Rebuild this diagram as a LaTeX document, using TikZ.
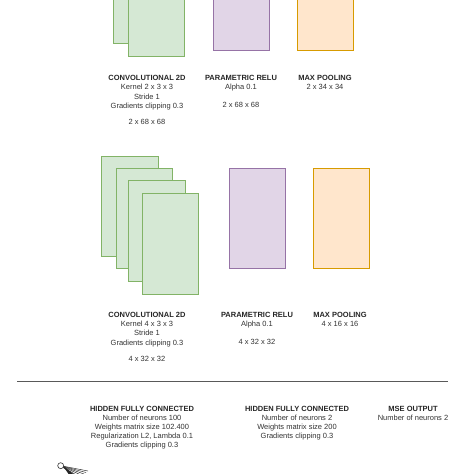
\documentclass[tikz,border=0pt]{standalone}
\usepackage{fontspec}
\setmainfont{Liberation Sans}
\definecolor{gfill}{HTML}{D5E8D4}
\definecolor{gdraw}{HTML}{82B366}
\definecolor{pfill}{HTML}{E1D5E7}
\definecolor{pdraw}{HTML}{9673A6}
\definecolor{ofill}{HTML}{FFE6CC}
\definecolor{odraw}{HTML}{D79B00}
\definecolor{txt}{HTML}{333333}
\tikzset{
  greenbox/.style={draw=gdraw, fill=gfill, line width=0.6pt},
  purplebox/.style={draw=pdraw, fill=pfill, line width=0.6pt},
  orangebox/.style={draw=odraw, fill=ofill, line width=0.6pt},
  lbl/.style={anchor=north, inner sep=0pt, align=center, text=txt,
    font=\fontsize{7.5}{9.2}\selectfont},
}
\newcommand{\ttl}[1]{\textbf{\color{black!85}#1}}
\begin{document}
\begin{tikzpicture}[x=1pt,y=-1pt]
\useasboundingbox (0,0) rectangle (474,474);
\clip (0,0) rectangle (474,474);
\fill[white] (0,0) rectangle (474,474);
% top row
\draw[greenbox] (113,-58) rectangle (169,43);
\draw[greenbox] (128,-45) rectangle (184,56);
\draw[purplebox] (213,-51) rectangle (269,50);
\draw[orangebox] (297,-51) rectangle (353,50);
\node[lbl] (c1) at (147,75.3) {\ttl{CONVOLUTIONAL 2D}\\Kernel 2 x 3 x 3\\Stride 1\\Gradients clipping 0.3\\[7pt]2 x 68 x 68};
\node[lbl] (r1) at (241,75.3) {\ttl{PARAMETRIC RELU}\\Alpha 0.1\\[8pt]2 x 68 x 68};
\node[lbl] (m1) at (325,75.3) {\ttl{MAX POOLING}\\2 x 34 x 34};
% middle row
\draw[greenbox] (101.7,156) rectangle (158.3,256.7);
\draw[greenbox] (116,168.7) rectangle (172.7,268.3);
\draw[greenbox] (128.7,180.7) rectangle (185.3,281.3);
\draw[greenbox] (142,193.3) rectangle (198.7,294);
\draw[purplebox] (229,168.3) rectangle (285.7,268.7);
\draw[orangebox] (313,168.3) rectangle (369.7,268.7);
\node[lbl] (c2) at (147,312) {\ttl{CONVOLUTIONAL 2D}\\Kernel 4 x 3 x 3\\Stride 1\\Gradients clipping 0.3\\[7pt]4 x 32 x 32};
\node[lbl] (r2) at (257,312.3) {\ttl{PARAMETRIC RELU}\\Alpha 0.1\\[8pt]4 x 32 x 32};
\node[lbl] (m2) at (340,312.3) {\ttl{MAX POOLING}\\4 x 16 x 16};
% separator
\coordinate (sl) at (17,381);
\coordinate (sr) at (448,381);
\draw[black!65, line width=0.8pt] (sl) -- (sr);
% bottom row
\node[lbl] (h1) at (142,405.6) {\ttl{HIDDEN FULLY CONNECTED}\\Number of neurons 100\\Weights matrix size 102.400\\Regularization L2, Lambda 0.1\\Gradients clipping 0.3};
\node[lbl] (h2) at (297,405.6) {\ttl{HIDDEN FULLY CONNECTED}\\Number of neurons 2\\Weights matrix size 200\\Gradients clipping 0.3};
\node[lbl] (mse) at (413,405.6) {\ttl{MSE OUTPUT}\\Number of neurons 2};
% partial icon at bottom left
\coordinate (ic) at (60.7,465.7);
\foreach \ex/\ey in {88/471, 86/472.5, 84/474, 81/475, 78/476, 75/476} {
  \draw[black!80, line width=0.5pt] (ic) -- (\ex,\ey);
}
\fill[black!85] (63,466) -- (76,476) -- (70,476) -- cycle;
\draw[black!80, fill=white, line width=0.6pt] (ic) circle (3);
\end{tikzpicture}
\end{document}
